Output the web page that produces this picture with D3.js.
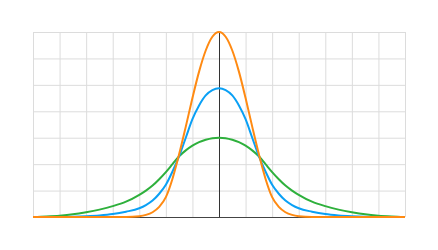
<!DOCTYPE html>
<html>
<head>
<meta charset="utf-8">
<script src="https://cdn.jsdelivr.net/npm/d3@7"></script>
<style>
  html, body { margin: 0; padding: 0; background: #fff; }
  svg { display: block; }
</style>
</head>
<body>
<svg id="chart1"></svg>
<script>
// x positions in grid units (center = 0)
var xValues = [-7, -6.5, -6, -5.5, -5, -4.5, -4, -3.5, -3, -2.75, -2.5, -2.25, -2, -1.75, -1.5, -1.25, -1, -0.75, -0.5, -0.25,
               0, 0.25, 0.5, 0.75, 1, 1.25, 1.5, 1.75, 2, 2.25, 2.5, 2.75, 3, 3.5, 4, 4.5, 5, 5.5, 6, 6.5, 7];

// wide curve
var greenValues = [0, 0.02, 0.05, 0.1, 0.18, 0.28, 0.41, 0.58, 0.84, 1.0, 1.19, 1.43, 1.7, 2.0, 2.3, 2.52, 2.7, 2.83, 2.92, 2.98,
                   3.0, 2.98, 2.92, 2.83, 2.7, 2.52, 2.3, 2.0, 1.7, 1.43, 1.19, 1.0, 0.84, 0.58, 0.41, 0.28, 0.18, 0.1, 0.05, 0.02, 0];

// medium curve
var blueValues = [0, 0, 0, 0.01, 0.03, 0.06, 0.11, 0.2, 0.33, 0.45, 0.62, 0.88, 1.22, 1.72, 2.3, 3.0, 3.7, 4.22, 4.6, 4.8,
                  4.87, 4.8, 4.6, 4.22, 3.7, 3.0, 2.3, 1.72, 1.22, 0.88, 0.62, 0.45, 0.33, 0.2, 0.11, 0.06, 0.03, 0.01, 0, 0, 0];

// narrow curve
var orangeValues = [0, 0, 0, 0, 0, 0, 0, 0, 0.03, 0.08, 0.18, 0.38, 0.75, 1.45, 2.38, 3.42, 4.5, 5.5, 6.3, 6.82,
                    7.0, 6.82, 6.3, 5.5, 4.5, 3.42, 2.38, 1.45, 0.75, 0.38, 0.18, 0.08, 0.03, 0, 0, 0, 0, 0, 0, 0, 0];

var xTicks = [-7, -6, -5, -4, -3, -2, -1, 0, 1, 2, 3, 4, 5, 6, 7];
var yTicks = [0, 1, 2, 3, 4, 5, 6, 7];

var dimensions = {
    width: 438,
    height: 250,
    margin: {
        top: 32,
        bottom: 33,
        left: 33,
        right: 33
    }
}

var svg = d3.select("#chart1")
            .attr("width", dimensions.width)
            .attr("height", dimensions.height);

var xScale = d3.scaleLinear()
    .domain([-7, 7])
    .range([dimensions.margin.left, dimensions.width - dimensions.margin.right]);

var yScale = d3.scaleLinear()
    .domain([0, 7])
    .range([dimensions.height - dimensions.margin.bottom, dimensions.margin.top]);

// grid
var xGrid = svg.append("g")
    .attr("transform", `translate(0,${dimensions.height - dimensions.margin.bottom})`)
    .call(d3.axisBottom(xScale)
        .tickValues(xTicks)
        .tickSize(-(yScale(0) - yScale(7)))
        .tickFormat(""));
xGrid.select(".domain").remove();
xGrid.selectAll("line").attr("stroke", "#dcdcdc").attr("stroke-width", 1);

var yGrid = svg.append("g")
    .attr("transform", `translate(${dimensions.margin.left},0)`)
    .call(d3.axisLeft(yScale)
        .tickValues(yTicks)
        .tickSize(-(xScale(7) - xScale(-7)))
        .tickFormat(""));
yGrid.select(".domain").remove();
yGrid.selectAll("line").attr("stroke", "#dcdcdc").attr("stroke-width", 1);

// base line and center line
svg.append("line")
    .attr("x1", xScale(-7))
    .attr("x2", xScale(7))
    .attr("y1", yScale(0) + 0.5)
    .attr("y2", yScale(0) + 0.5)
    .attr("stroke", "#444")
    .attr("stroke-width", 1);

svg.append("line")
    .attr("x1", xScale(0) + 0.5)
    .attr("x2", xScale(0) + 0.5)
    .attr("y1", yScale(0))
    .attr("y2", yScale(7))
    .attr("stroke", "#333")
    .attr("stroke-width", 1);

var line = d3.line()
    .x((d, i) => xScale(xValues[i]))
    .y(d => yScale(d))
    .curve(d3.curveMonotoneX);

var series = [
    { values: greenValues, color: "#2eb03c" },
    { values: blueValues, color: "#0aa0f5" },
    { values: orangeValues, color: "#ff8a12" }
];

series.forEach(s => {
    svg.append("path")
        .datum(s.values)
        .attr("d", line)
        .attr("fill", "none")
        .attr("stroke", s.color)
        .attr("stroke-width", 2)
        .attr("stroke-linejoin", "round");
});
</script>
</body>
</html>
